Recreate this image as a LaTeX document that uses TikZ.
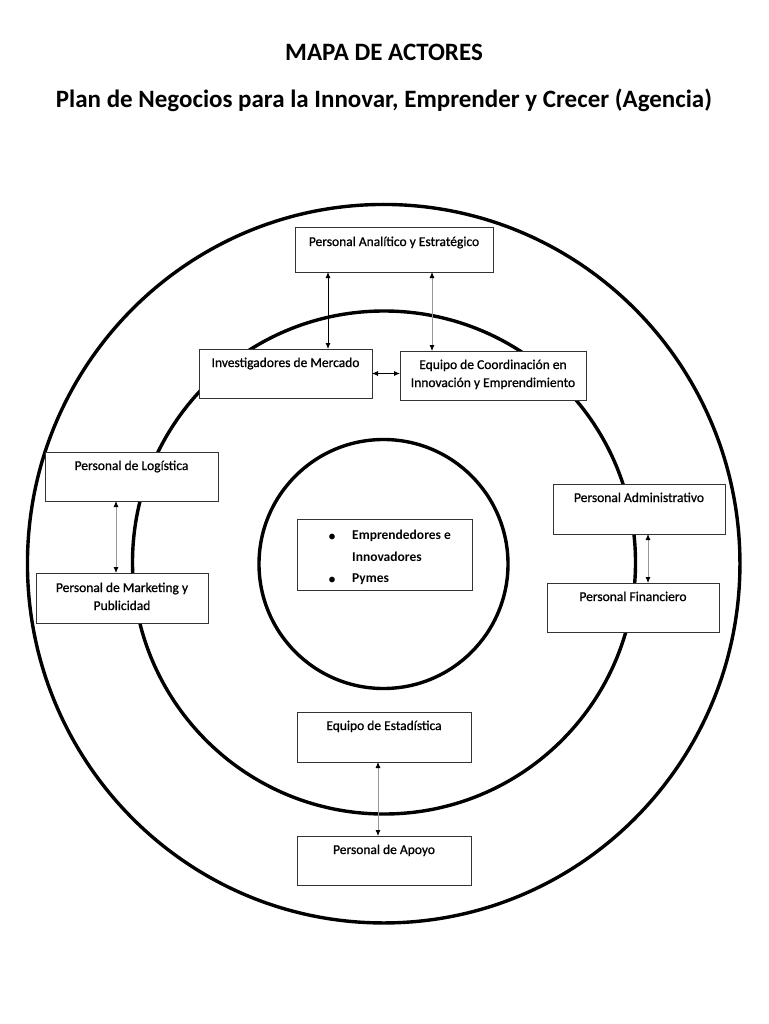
\documentclass[tikz,border=0pt]{standalone}
\usepackage{fontspec}
\setmainfont{Carlito}
\newfontfamily\boxfont{Carlito}[FakeBold=0.9]
\usetikzlibrary{arrows.meta,shapes.geometric}
\begin{document}
\begin{tikzpicture}[x=1pt,y=-1pt,
  ring/.style={draw=black, line width=3.4pt, inner sep=0pt, outer sep=0pt},
  box/.style={draw=black!80, line width=0.9pt, rectangle, inner sep=0pt, outer sep=0pt},
  boxtext/.style={font=\boxfont\fontsize{13.5}{16}\selectfont, inner sep=0pt, anchor=base},
  midtext/.style={font=\bfseries\fontsize{13.5}{16}\selectfont, inner sep=0pt, anchor=base west},
  bullet/.style={font=\fontsize{16}{16}\selectfont, inner sep=0pt, anchor=base},
  title/.style={font=\bfseries\fontsize{25}{30}\selectfont, inner sep=0pt, anchor=base},
  headtip/.tip={Latex[length=6pt,width=5pt,color=black]},
  link/.style={line width=0.8pt, draw=black, headtip-headtip},
  glink/.style={line width=0.8pt, draw=black!40, headtip-headtip}
]
\useasboundingbox (0,0) rectangle (768,1024);

% titles
\node[title] (t1) at (384,61) {MAPA DE ACTORES};
\node[title] (t2) at (384,108) {Plan de Negocios para la Innovar, Emprender y Crecer (Agencia)};

% rings
\node[ring, ellipse, minimum width=712.5pt, minimum height=718.5pt] (outer) at (383.7,563.7) {};
\node[ring, circle, minimum size=503pt] (middle) at (384,562.5) {};
\node[ring, circle, minimum size=249pt] (inner) at (383.5,564) {};

% boxes
\node[box, fill=white, minimum width=198pt, minimum height=45pt] (ana) at (394,249.5) {};
\node[box, fill=white, minimum width=173pt, minimum height=49pt] (inv) at (285.5,373.5) {};
\node[box, fill=white, minimum width=186pt, minimum height=49pt] (coo) at (493,375.5) {};
\node[box, fill=white, minimum width=173pt, minimum height=49pt] (log) at (131.5,476.5) {};
\node[box, fill=white, minimum width=172pt, minimum height=50pt] (mkt) at (122,598) {};
\node[box, fill=white, minimum width=172pt, minimum height=50pt] (adm) at (639,509) {};
\node[box, fill=white, minimum width=172pt, minimum height=49pt] (fin) at (633,607.5) {};
\node[box, fill=white, minimum width=175pt, minimum height=71pt] (cen) at (384.5,554.5) {};
\node[box, fill=white, minimum width=174pt, minimum height=50pt] (est) at (384,737) {};
\node[box, fill=white, minimum width=174pt, minimum height=49pt] (apo) at (384,860.5) {};

% box texts
\node[boxtext] (anaT) at (394,246) {Personal Analítico y Estratégico};
\node[boxtext] (invT) at (285.5,367) {Investigadores de Mercado};
\node[boxtext] (cooT1) at (493,369) {Equipo de Coordinación en};
\node[boxtext] (cooT2) at (493,387) {Innovación y Emprendimiento};
\node[boxtext] (logT) at (131.5,470) {Personal de Logística};
\node[boxtext] (mktT1) at (122,592) {Personal de Marketing y};
\node[boxtext] (mktT2) at (122,610) {Publicidad};
\node[boxtext] (admT) at (639,502) {Personal Administrativo};
\node[boxtext] (finT) at (633,601) {Personal Financiero};
\node[boxtext] (estT) at (384,730) {Equipo de Estadística};
\node[boxtext] (apoT) at (384,854) {Personal de Apoyo};

% centre list
\node[bullet] (b1) at (332,541) {•};
\node[midtext] (c1) at (352,539) {Emprendedores e};
\node[midtext] (c2) at (352,561) {Innovadores};
\node[bullet] (b2) at (332,584) {•};
\node[midtext] (c3) at (352,582) {Pymes};

% connectors
\draw[link] ([xshift=33pt]ana.south west) -- ([xshift=33pt]ana.south west |- inv.north);
\draw[glink] ([xshift=137pt]ana.south west) -- ([xshift=137pt]ana.south west |- coo.north);
\draw[link] (inv.east) -- (inv.east -| coo.west);
\draw[glink] ([xshift=71pt]log.south west) -- ([xshift=71pt]log.south west |- mkt.north);
\draw[glink] ([xshift=95pt]adm.south west) -- ([xshift=95pt]adm.south west |- fin.north);
\draw[glink] ([xshift=81pt]est.south west) -- ([xshift=81pt]est.south west |- apo.north);
\end{tikzpicture}
\end{document}
